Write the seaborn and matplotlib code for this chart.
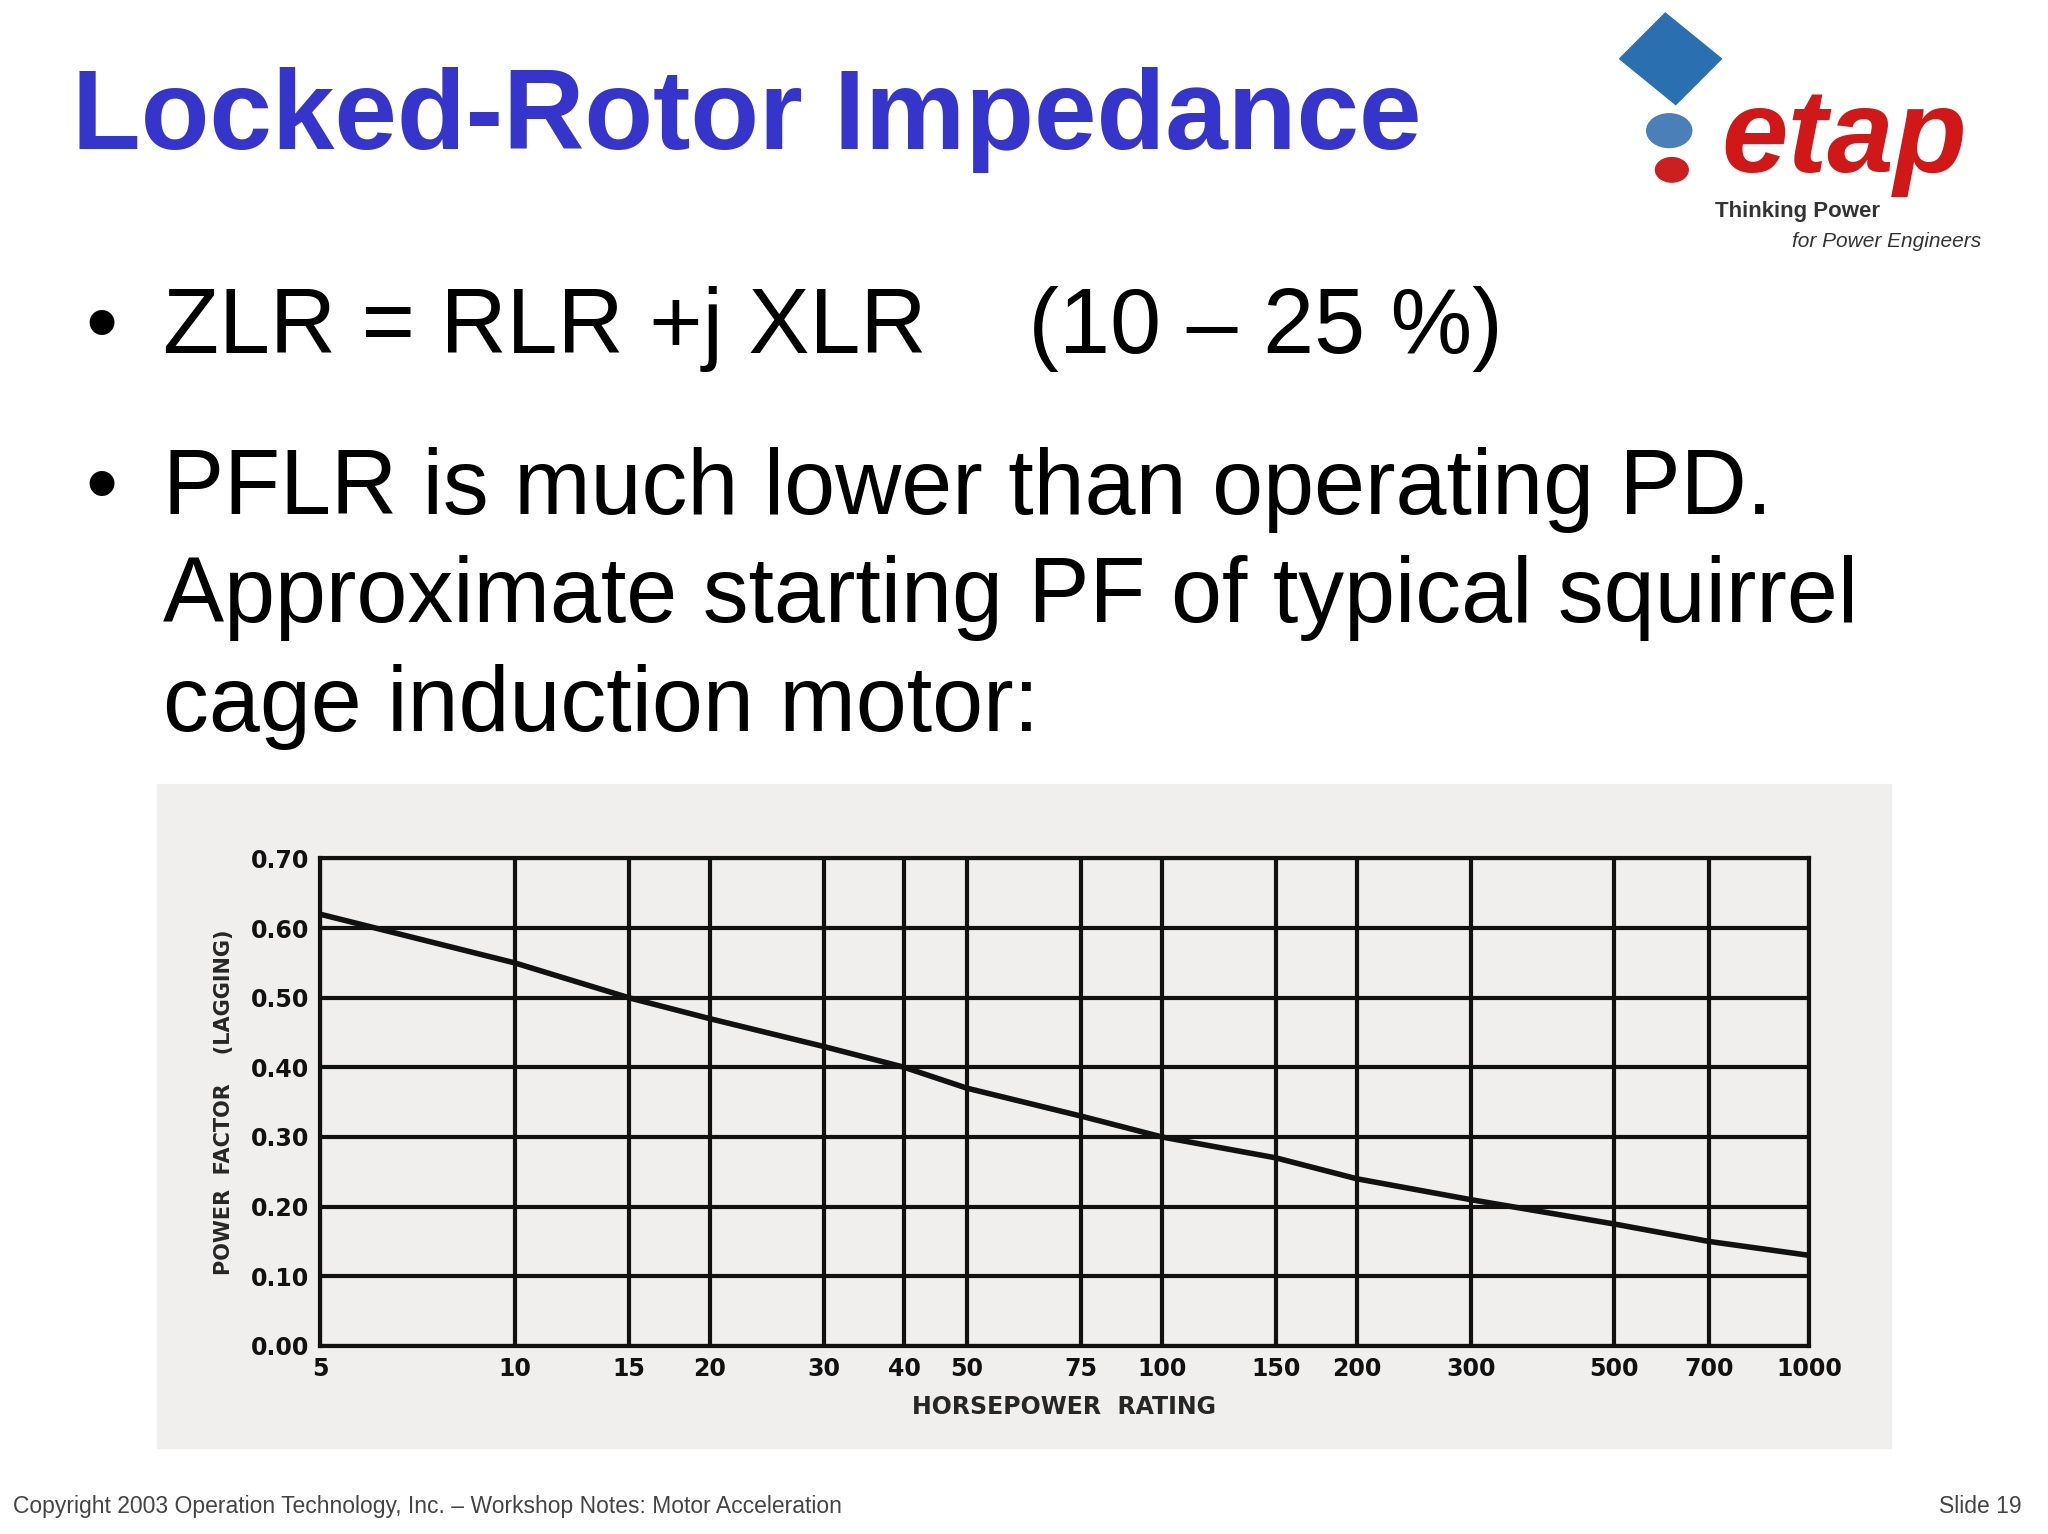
import numpy as np
import pandas as pd
import seaborn as sns
from matplotlib import pyplot as plt
from matplotlib.patches import Rectangle, Polygon

sns.set_style("white")
plt.rcParams['font.family'] = ['Liberation Sans', 'DejaVu Sans']
plt.rcParams['text.color'] = 'black'

# chart data
hp_ticks = [5, 10, 15, 20, 30, 40, 50, 75, 100, 150, 200, 300, 500, 700, 1000]
hp_labels = ["5", "10", "15", "20", "30", "40", "50", "75", "100", "150", "200", "300", "500", "700", "1000"]
pf_values = [0.62, 0.55, 0.50, 0.47, 0.43, 0.40, 0.37, 0.33, 0.30, 0.27, 0.24, 0.21, 0.175, 0.15, 0.13]
y_ticks = [0.0, 0.1, 0.2, 0.3, 0.4, 0.5, 0.6, 0.7]
y_labels = ["0.00", "0.10", "0.20", "0.30", "0.40", "0.50", "0.60", "0.70"]

W, H = 1568, 1174
fig = plt.figure(figsize=(20.48, 15.34), dpi=100)

def fx(x): return x / W
def fy(y): return 1 - y / H

# slide text
fig.text(fx(55), fy(92), "Locked-Rotor Impedance", color="#3535cc", fontsize=81,
         fontweight="bold", va="center", ha="left")
fig.text(fx(65), fy(252), "•", fontsize=66, va="center")
fig.text(fx(125), fy(252), "ZLR = RLR +j XLR    (10 – 25 %)", fontsize=66, va="center")
fig.text(fx(65), fy(375), "•", fontsize=66, va="center")
fig.text(fx(125), fy(375), "PFLR is much lower than operating PD.", fontsize=66, va="center")
fig.text(fx(125), fy(458), "Approximate starting PF of typical squirrel", fontsize=66, va="center")
fig.text(fx(125), fy(541), "cage induction motor:", fontsize=66, va="center")
fig.text(fx(10), fy(1153), "Copyright 2003 Operation Technology, Inc. – Workshop Notes: Motor Acceleration",
         fontsize=16.5, color="#444444", va="center")
fig.text(fx(1548), fy(1153), "Slide 19", fontsize=16.5, color="#444444", va="center", ha="right")

# logo
fig.text(fx(1318), fy(108), "etap", color="#d01818", fontsize=86, fontweight="bold",
         fontstyle="italic", va="center")
fig.text(fx(1313), fy(162), "Thinking Power", fontsize=16, fontweight="bold", color="#333333", va="center")
fig.text(fx(1372), fy(185), "for Power Engineers", fontsize=15, fontstyle="italic", color="#333333", va="center")
fig.patches.append(Polygon([(fx(1240), fy(45)), (fx(1275), fy(10)), (fx(1318), fy(45)), (fx(1283), fy(80))],
                           closed=True, transform=fig.transFigure, color="#2a6fb0"))
fig.patches.append(plt.Circle((fx(1278), fy(100)), 0.011, transform=fig.transFigure, color="#4a7fb8"))
fig.patches.append(plt.Circle((fx(1280), fy(130)), 0.008, transform=fig.transFigure, color="#cc1f1f"))

# scanned chart background
fig.patches.append(Rectangle((fx(120), fy(1108)), 1328 / W, 508 / H, transform=fig.transFigure,
                             color="#f1eeee", zorder=0))

ax = fig.add_axes([fx(245), fy(1030), 1140 / W, 373 / H])
ax.set_zorder(5)
ax.set_facecolor("#f1eeee")
df = pd.DataFrame({"hp": hp_ticks, "pf": pf_values})
sns.lineplot(data=df, x="hp", y="pf", ax=ax, color="#111111", linewidth=4)
ax.set_xscale("log")
ax.set_xlim(5, 1000)
ax.set_ylim(0, 0.7)
ax.set_xticks(hp_ticks)
ax.set_xticklabels(hp_labels)
ax.xaxis.set_minor_locator(plt.NullLocator())
ax.set_yticks(y_ticks)
ax.set_yticklabels(y_labels)
ax.grid(True, color="#111111", linewidth=3)
for s in ax.spines.values():
    s.set_color("#111111")
    s.set_linewidth(3)
ax.tick_params(length=0, labelsize=17, pad=8, labelcolor="#111111")
for t in ax.get_xticklabels() + ax.get_yticklabels():
    t.set_fontweight("bold")
    t.set_family("DejaVu Sans")
ax.set_xlabel("HORSEPOWER  RATING", fontsize=17, fontweight="bold", family="DejaVu Sans", labelpad=10)
ax.set_ylabel("POWER  FACTOR    (LAGGING)", fontsize=15, fontweight="bold", family="DejaVu Sans", labelpad=12)

fig.savefig("out.png", dpi=100, facecolor="white")
